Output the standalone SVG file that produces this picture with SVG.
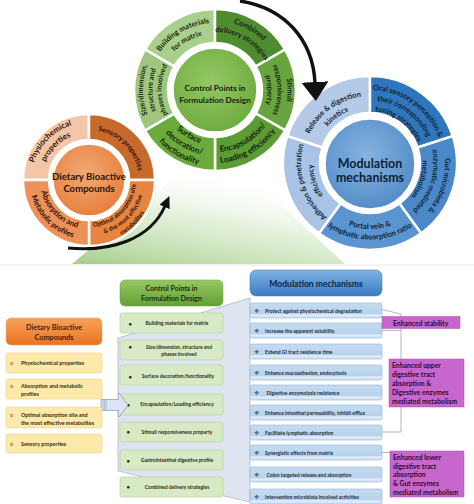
<svg xmlns="http://www.w3.org/2000/svg" width="474" height="504" viewBox="0 0 474 504">
<style>
text{font-family:Lato,"Liberation Sans",Arial,sans-serif;font-weight:700}
.seg{stroke:#fff;stroke-width:2.5}
.ot{fill:#2a1208}
.gt{fill:#15240c}
.bt{fill:#0d1f36}
.yi{fill:#fde9aa;stroke:#f0d48a;stroke-width:0.6}
.yt{font-size:5.4px;fill:#3a2a10}
.yb{font-size:5.5px;fill:#6a5020;font-weight:400}
.gi{fill:#d8e9c6;stroke:#b3d197;stroke-width:0.6}
.git{font-size:5px;fill:#1f2d12;text-anchor:middle}
.gb{font-size:6px;fill:#1f2d12}
.bi{fill:url(#biG);stroke:#92b6dc;stroke-width:0.6}
.bit{font-size:5px;fill:#1b2a3c}
.bb{font-size:6px;fill:#3b5c80;font-family:"DejaVu Sans",sans-serif;font-weight:400}
.pb{fill:#c766cc;stroke:#a94fb0;stroke-width:0.5}
.pt{font-size:6.8px;fill:#2c0a33}
.br{fill:none;stroke:#a6a6a6;stroke-width:0.8}
.hd{text-anchor:middle}
</style>
<defs>
<radialGradient id="oDisk" cx="0.45" cy="0.4" r="0.7"><stop offset="0" stop-color="#f3a874"/><stop offset="1" stop-color="#e47a36"/></radialGradient>
<radialGradient id="gDisk" cx="0.45" cy="0.4" r="0.7"><stop offset="0" stop-color="#94c865"/><stop offset="1" stop-color="#69a83a"/></radialGradient>
<radialGradient id="bDisk" cx="0.45" cy="0.4" r="0.7"><stop offset="0" stop-color="#86b3e0"/><stop offset="1" stop-color="#4d87c6"/></radialGradient>
<linearGradient id="wedge" x1="0" y1="1" x2="0.5" y2="0"><stop offset="0" stop-color="#9fcc82" stop-opacity="0.95"/><stop offset="0.55" stop-color="#cfe6bf" stop-opacity="0.6"/><stop offset="1" stop-color="#ffffff" stop-opacity="0"/></linearGradient>
<linearGradient id="orH" x1="0" y1="0" x2="0" y2="1"><stop offset="0" stop-color="#f6a35a"/><stop offset="1" stop-color="#e97323"/></linearGradient>
<linearGradient id="grH" x1="0" y1="0" x2="0" y2="1"><stop offset="0" stop-color="#95c762"/><stop offset="1" stop-color="#64a134"/></linearGradient>
<linearGradient id="blH" x1="0" y1="0" x2="0" y2="1"><stop offset="0" stop-color="#7fb4e3"/><stop offset="1" stop-color="#3a7bc2"/></linearGradient>
<linearGradient id="biG" x1="0" y1="0" x2="0" y2="1"><stop offset="0" stop-color="#c5dbf0"/><stop offset="0.7" stop-color="#b9d3ec"/><stop offset="0.8" stop-color="#e4eef9"/><stop offset="1" stop-color="#c8ddf1"/></linearGradient>
<marker id="ahS" viewBox="0 0 12 11" refX="1" refY="5.5" markerWidth="12" markerHeight="11" markerUnits="userSpaceOnUse" orient="auto"><path d="M0,0 L12,5.5 L0,11 Z" fill="#111"/></marker>
<marker id="ahL" viewBox="0 0 19 27" refX="1" refY="13.5" markerWidth="19" markerHeight="27" markerUnits="userSpaceOnUse" orient="auto"><path d="M0,0 L19,13.5 L0,27 Z" fill="#111"/></marker>
<path id="o1" d="M33.46,194.88 A57.5 57.5 0 0 1 103.88,124.46"/>
<path id="o2" d="M43.60,192.16 A47 47 0 0 1 101.16,134.60"/>
<path id="o3" d="M76.06,131.70 A50 50 0 0 1 137.30,192.94"/>
<path id="o4" d="M76.84,225.40 A47 47 0 0 0 134.40,167.84"/>
<path id="o5" d="M74.64,233.61 A55.5 55.5 0 0 0 142.61,165.64"/>
<path id="o6" d="M72.44,241.82 A64 64 0 0 0 150.82,163.44"/>
<path id="o7" d="M41.67,167.32 A49 49 0 0 0 101.68,227.33"/>
<path id="o8" d="M31.53,164.60 A59.5 59.5 0 0 0 104.40,237.47"/>
<path id="g1" d="M148,90 A67 67 0 0 1 248.5,31.98"/>
<path id="g2" d="M159,90 A56 56 0 0 1 243,41.50"/>
<path id="g3" d="M180.5,30.24 A69 69 0 0 1 284,90"/>
<path id="g4" d="M186,39.77 A58 58 0 0 1 273,90"/>
<path id="g5" d="M251.25,27.21 A72.5 72.5 0 0 1 251.25,152.79"/>
<path id="g6" d="M246.25,35.87 A62.5 62.5 0 0 1 246.25,144.13"/>
<path id="g7" d="M241.25,44.53 A52.5 52.5 0 0 1 241.25,135.47"/>
<path id="g8" d="M184,143.69 A62 62 0 0 0 277,90"/>
<path id="g9" d="M178.5,153.22 A73 73 0 0 0 288,90"/>
<path id="g10" d="M160,90 A55 55 0 0 0 242.5,137.63"/>
<path id="g11" d="M149.5,90 A65.5 65.5 0 0 0 247.75,146.72"/>
<path id="g12" d="M139,90 A76 76 0 0 0 253,155.82"/>
<path id="g13" d="M179,152.35 A72 72 0 0 1 179,27.65"/>
<path id="g14" d="M183.75,144.13 A62.5 62.5 0 0 1 183.75,35.87"/>
<path id="g15" d="M188.25,136.33 A53.5 53.5 0 0 1 188.25,43.67"/>
<path id="b1" d="M303.37,170.00 A67 67 0 0 1 397.25,101.80"/>
<path id="b2" d="M314.31,168.85 A56 56 0 0 1 392.78,111.84"/>
<path id="b3" d="M340.31,96.31 A73 73 0 0 1 442.60,170.63"/>
<path id="b4" d="M344.58,105.91 A62.5 62.5 0 0 1 432.16,169.53"/>
<path id="b5" d="M348.85,115.50 A52 52 0 0 1 421.71,168.43"/>
<path id="b6" d="M425.73,112.82 A75 75 0 0 1 385.59,236.36"/>
<path id="b7" d="M417.19,120.51 A63.5 63.5 0 0 1 383.20,225.11"/>
<path id="b8" d="M409.01,127.87 A52.5 52.5 0 0 1 380.91,214.35"/>
<path id="b9" d="M312.84,196 A66 66 0 0 0 427.16,196"/>
<path id="b10" d="M303.75,201.25 A76.5 76.5 0 0 0 436.25,201.25"/>
<path id="b11" d="M355.65,230.49 A69 69 0 0 1 318.73,116.83"/>
<path id="b12" d="M358.15,218.75 A57 57 0 0 1 327.64,124.86"/>
</defs>

<rect width="474" height="504" fill="#fff"/>
<polygon id="wedge-bg" points="185,168 242,168 345,264 72,264" fill="url(#wedge)"/>
<line x1="0" y1="265" x2="474" y2="265" stroke="#dcdcdc" stroke-width="0.6"/>

<g id="dietary-circle">
<path class="seg" d="M23,180 A66 66 0 0 1 89,114 L89,140 A40 40 0 0 0 49,180 Z" fill="#f5c5a8"/>
<path class="seg" d="M89,114 A66 66 0 0 1 155,180 L129,180 A40 40 0 0 0 89,140 Z" fill="#c8692c"/>
<path class="seg" d="M155,180 A66 66 0 0 1 89,246 L89,220 A40 40 0 0 0 129,180 Z" fill="#e7843f"/>
<path class="seg" d="M89,246 A66 66 0 0 1 23,180 L49,180 A40 40 0 0 0 89,220 Z" fill="#ed9158"/>
<circle cx="89" cy="180" r="36" fill="url(#oDisk)" stroke="#fff" stroke-width="1.5"/>
<text class="ot hd" x="89" y="179.5" font-size="9.6">Dietary Bioactive</text>
<text class="ot hd" x="89" y="191.5" font-size="9.6">Compounds</text>
<text class="ot" font-size="8"><textPath href="#o1" startOffset="50%" text-anchor="middle">Physiochemical</textPath></text>
<text class="ot" font-size="8"><textPath href="#o2" startOffset="50%" text-anchor="middle">properties</textPath></text>
<text class="ot" font-size="7.2"><textPath href="#o3" startOffset="50%" text-anchor="middle">Sensory properties</textPath></text>
<text class="ot" font-size="6.2"><textPath href="#o4" startOffset="50%" text-anchor="middle">Optimal absorption site</textPath></text>
<text class="ot" font-size="6.2"><textPath href="#o5" startOffset="50%" text-anchor="middle">&amp; the most effective</textPath></text>
<text class="ot" font-size="6.2"><textPath href="#o6" startOffset="50%" text-anchor="middle">metabolites</textPath></text>
<text class="ot" font-size="7.8"><textPath href="#o7" startOffset="50%" text-anchor="middle">Absorption and</textPath></text>
<text class="ot" font-size="7.6"><textPath href="#o8" startOffset="50%" text-anchor="middle">Metabolic profiles</textPath></text>
</g>

<g id="control-circle">
<path class="seg" d="M144.85,49.5 A81 81 0 0 1 215,9 L215,43 A47 47 0 0 0 174.30,66.5 Z" fill="#a8cf8b"/>
<path class="seg" d="M215,9 A81 81 0 0 1 285.15,49.5 L255.70,66.5 A47 47 0 0 0 215,43 Z" fill="#4f8c2f"/>
<path class="seg" d="M285.15,49.5 A81 81 0 0 1 285.15,130.5 L255.70,113.5 A47 47 0 0 0 255.70,66.5 Z" fill="#69a53e"/>
<path class="seg" d="M285.15,130.5 A81 81 0 0 1 215,171 L215,137 A47 47 0 0 0 255.70,113.5 Z" fill="#5b9c35"/>
<path class="seg" d="M215,171 A81 81 0 0 1 144.85,130.5 L174.30,113.5 A47 47 0 0 0 215,137 Z" fill="#6bab3b"/>
<path class="seg" d="M144.85,130.5 A81 81 0 0 1 144.85,49.5 L174.30,66.5 A47 47 0 0 0 174.30,113.5 Z" fill="#9ec67e"/>
<circle cx="215" cy="90" r="42" fill="url(#gDisk)" stroke="#fff" stroke-width="1.5"/>
<text class="gt hd" x="215" y="91" font-size="8.2">Control Points in</text>
<text class="gt hd" x="215" y="102.5" font-size="8.2">Formulation Design</text>
<text class="gt" font-size="7.4"><textPath href="#g1" startOffset="50%" text-anchor="middle">Building materials</textPath></text>
<text class="gt" font-size="7.4"><textPath href="#g2" startOffset="50%" text-anchor="middle">for matrix</textPath></text>
<text class="gt" font-size="7.6"><textPath href="#g3" startOffset="50%" text-anchor="middle">Combined</textPath></text>
<text class="gt" font-size="7.4"><textPath href="#g4" startOffset="50%" text-anchor="middle">delivery strategies</textPath></text>
<text class="gt" font-size="7.4"><textPath href="#g5" startOffset="50%" text-anchor="middle">Stimuli</textPath></text>
<text class="gt" font-size="7.4"><textPath href="#g6" startOffset="50%" text-anchor="middle">responsiveness</textPath></text>
<text class="gt" font-size="7.4"><textPath href="#g7" startOffset="50%" text-anchor="middle">property</textPath></text>
<text class="gt" font-size="8.2"><textPath href="#g8" startOffset="50%" text-anchor="middle">Encapsulation/</textPath></text>
<text class="gt" font-size="8.2"><textPath href="#g9" startOffset="50%" text-anchor="middle">Loading efficiency</textPath></text>
<text class="gt" font-size="8.2"><textPath href="#g10" startOffset="50%" text-anchor="middle">Surface</textPath></text>
<text class="gt" font-size="8.2"><textPath href="#g11" startOffset="50%" text-anchor="middle">decoration/</textPath></text>
<text class="gt" font-size="8.2"><textPath href="#g12" startOffset="50%" text-anchor="middle">functionality</textPath></text>
<text class="gt" font-size="7.2"><textPath href="#g13" startOffset="50%" text-anchor="middle">Size/dimension,</textPath></text>
<text class="gt" font-size="7.2"><textPath href="#g14" startOffset="50%" text-anchor="middle">structure and</textPath></text>
<text class="gt" font-size="7.2"><textPath href="#g15" startOffset="50%" text-anchor="middle">phases involved</textPath></text>
</g>

<g id="modulation-circle">
<path class="seg" d="M287.26,136.12 A87 87 0 0 1 370,76 L370,113 A50 50 0 0 0 322.45,147.55 Z" fill="#b5cae7"/>
<path class="seg" d="M370,76 A87 87 0 0 1 452.74,136.12 L417.55,147.55 A50 50 0 0 0 370,113 Z" fill="#2f76bc"/>
<path class="seg" d="M452.74,136.12 A87 87 0 0 1 421.14,233.38 L399.39,203.45 A50 50 0 0 0 417.55,147.55 Z" fill="#4a88c7"/>
<path class="seg" d="M421.14,233.38 A87 87 0 0 1 318.86,233.38 L340.61,203.45 A50 50 0 0 0 399.39,203.45 Z" fill="#5a95d1"/>
<path class="seg" d="M318.86,233.38 A87 87 0 0 1 287.26,136.12 L322.45,147.55 A50 50 0 0 0 340.61,203.45 Z" fill="#a8c3e6"/>
<circle cx="370" cy="164" r="45" fill="url(#bDisk)" stroke="#fff" stroke-width="1.5"/>
<text class="bt hd" x="370" y="168" font-size="12.5">Modulation</text>
<text class="bt hd" x="370" y="182" font-size="12.5">mechanisms</text>
<text class="bt" font-size="7.6"><textPath href="#b1" startOffset="50%" text-anchor="middle">Release &amp; digestion</textPath></text>
<text class="bt" font-size="7.6"><textPath href="#b2" startOffset="50%" text-anchor="middle">kinetics</textPath></text>
<text class="bt" font-size="7.4"><textPath href="#b3" startOffset="50%" text-anchor="middle">Oral sensory perception &amp;</textPath></text>
<text class="bt" font-size="7.4"><textPath href="#b4" startOffset="50%" text-anchor="middle">their corresponding</textPath></text>
<text class="bt" font-size="7.4"><textPath href="#b5" startOffset="50%" text-anchor="middle">tuning strategies</textPath></text>
<text class="bt" font-size="7.4"><textPath href="#b6" startOffset="50%" text-anchor="middle">Gut microbiota &amp;</textPath></text>
<text class="bt" font-size="7.4"><textPath href="#b7" startOffset="50%" text-anchor="middle">enzymatic mediated</textPath></text>
<text class="bt" font-size="7.4"><textPath href="#b8" startOffset="50%" text-anchor="middle">metabolism</textPath></text>
<text class="bt" font-size="7.6"><textPath href="#b9" startOffset="50%" text-anchor="middle">Portal vein &amp;</textPath></text>
<text class="bt" font-size="7.6"><textPath href="#b10" startOffset="50%" text-anchor="middle">lymphatic absorption ratio</textPath></text>
<text class="bt" font-size="7.6"><textPath href="#b11" startOffset="50%" text-anchor="middle">Adhesion &amp; penetration</textPath></text>
<text class="bt" font-size="7.6"><textPath href="#b12" startOffset="50%" text-anchor="middle">efficiency</textPath></text>
</g>

<g id="connectors">
<path d="M68,248 C110,252 150,240 165,206" fill="none" stroke="#111" stroke-width="3" marker-end="url(#ahS)"/>
<path d="M240,1 C285,8 313,40 315,83" fill="none" stroke="#111" stroke-width="3.4" marker-end="url(#ahL)"/>
<polygon points="118,338 250,298 250,502 118,471" fill="#dfe4f1" stroke="#aeb6c8" stroke-width="0.8"/>
<path d="M101,399.5 H119 V393 L128,405 L119,417 V410.5 H101 Z" fill="#dbe5f3" stroke="#8796b0" stroke-width="0.7"/>
<path d="M103,399.5 V410.5 M104.6,399.5 V410.5 M106.2,399.5 V410.5" stroke="#8796b0" stroke-width="0.5"/>
<path class="br" d="M382,309.5 L401,314 V432 H382"/>
<path class="br" d="M382,330.5 H401"/>
<path class="br" d="M382,452.5 H390"/>
</g>

<g id="dbc-header">
<rect x="6" y="318" width="96" height="27" rx="5" fill="url(#orH)" stroke="#e0a070" stroke-width="0.5"/>
<text class="hd" x="54" y="330" font-size="7.3" fill="#3d2410">Dietary Bioactive</text>
<text class="hd" x="54" y="339.5" font-size="7.3" fill="#3d2410">Compounds</text>
</g>
<g id="dbc-1"><rect class="yi" x="6" y="353" width="96" height="20" rx="2"/><text class="yb" x="10" y="365">o</text><text class="yt" x="21" y="365">Physiochemical properties</text></g>
<g id="dbc-2"><rect class="yi" x="6" y="379" width="96" height="20" rx="2"/><text class="yb" x="10" y="388">o</text><text class="yt" x="21" y="388">Absorption and metabolic</text><text class="yt" x="21" y="396">profiles</text></g>
<g id="dbc-3"><rect class="yi" x="6" y="407" width="96" height="21" rx="2"/><text class="yb" x="10" y="417">o</text><text class="yt" x="21" y="417">Optimal absorption site and</text><text class="yt" x="21" y="424.5">the most effective metabolites</text></g>
<g id="dbc-4"><rect class="yi" x="6" y="434" width="96" height="19" rx="2"/><text class="yb" x="10" y="446">o</text><text class="yt" x="21" y="446">Sensory properties</text></g>

<g id="cp-header">
<rect x="120" y="280" width="103" height="26" rx="5" fill="url(#grH)" stroke="#6a9f44" stroke-width="0.5"/>
<text class="hd" x="171.5" y="291" font-size="7" fill="#1e2a12">Control Points in</text>
<text class="hd" x="171.5" y="301" font-size="7" fill="#1e2a12">Formulation Design</text>
</g>
<g id="cp-1"><rect class="gi" x="120" y="313" width="103" height="20" rx="2"/><text class="gb" x="128.5" y="325.5">•</text><text class="git" x="177" y="325">Building materials for matrix</text></g>
<g id="cp-2"><rect class="gi" x="120" y="340" width="103" height="20" rx="2"/><text class="gb" x="128.5" y="349">•</text><text class="git" x="179" y="348.5">Size/dimension, structure and</text><text class="git" x="179" y="356">phases involved</text></g>
<g id="cp-3"><rect class="gi" x="120" y="365" width="103" height="20" rx="2"/><text class="gb" x="128.5" y="378.5">•</text><text class="git" x="178" y="378">Surface decoration/functionality</text></g>
<g id="cp-4"><rect class="gi" x="120" y="394" width="103" height="21" rx="2"/><text class="gb" x="126.5" y="406.5">•</text><text class="git" x="177" y="406">Encapsulation/Loading efficiency</text></g>
<g id="cp-5"><rect class="gi" x="120" y="422" width="103" height="20" rx="2"/><text class="gb" x="126.5" y="434">•</text><text class="git" x="177" y="433.5">Stimuli responsiveness property</text></g>
<g id="cp-6"><rect class="gi" x="120" y="450" width="103" height="20" rx="2"/><text class="gb" x="126.5" y="462.5">•</text><text class="git" x="177" y="462">Gastrointestinal digestive profile</text></g>
<g id="cp-7"><rect class="gi" x="120" y="477" width="103" height="20" rx="2"/><text class="gb" x="126.5" y="489">•</text><text class="git" x="177" y="488.5">Combined delivery strategies</text></g>
<path d="M119,393 L128,405 L119,417" fill="#dbe5f3" stroke="#8796b0" stroke-width="0.7"/>

<g id="mm-header">
<rect x="250" y="270" width="132" height="26" rx="6" fill="url(#blH)" stroke="#3a70a8" stroke-width="0.5"/>
<text class="hd" x="316" y="286.5" font-size="8.6" fill="#10233c">Modulation mechanisms</text>
</g>
<g id="mm-1"><rect class="bi" x="250" y="303" width="132" height="15" rx="2"/><text class="bb" x="254" y="312.5">❖</text><text class="bit" x="265" y="312.5">Protect against physiochemical degradation</text></g>
<g id="mm-2"><rect class="bi" x="250" y="323" width="132" height="15" rx="2"/><text class="bb" x="254" y="332.5">❖</text><text class="bit" x="265" y="332.5">Increase the apparent solubility</text></g>
<g id="mm-3"><rect class="bi" x="250" y="344" width="132" height="15" rx="2"/><text class="bb" x="254" y="353.5">❖</text><text class="bit" x="265" y="353.5">Extend GI tract residence time</text></g>
<g id="mm-4"><rect class="bi" x="250" y="365" width="132" height="15" rx="2"/><text class="bb" x="254" y="374.5">❖</text><text class="bit" x="265" y="374.5">Enhance mucoadhesion, endocytosis</text></g>
<g id="mm-5"><rect class="bi" x="250" y="385" width="132" height="15" rx="2"/><text class="bb" x="254" y="394.5">❖</text><text class="bit" x="266.5" y="394.5">Digestive enzymolysis resistence</text></g>
<g id="mm-6"><rect class="bi" x="250" y="405" width="132" height="15" rx="2"/><text class="bb" x="254" y="414.5">❖</text><text class="bit" x="265" y="414.5">Enhance intestinal permeability, inhibit efflux</text></g>
<g id="mm-7"><rect class="bi" x="250" y="425" width="132" height="15" rx="2"/><text class="bb" x="254" y="434.5">❖</text><text class="bit" x="265" y="434.5">Facilitate lymphatic absorption</text></g>
<g id="mm-8"><rect class="bi" x="250" y="445" width="132" height="15" rx="2"/><text class="bb" x="254" y="454.5">❖</text><text class="bit" x="265" y="454.5">Synergistic effects from matrix</text></g>
<g id="mm-9"><rect class="bi" x="250" y="467" width="132" height="15" rx="2"/><text class="bb" x="254" y="476.5">❖</text><text class="bit" x="266.5" y="476.5">Colon targeted release and absorption</text></g>
<g id="mm-10"><rect class="bi" x="250" y="489" width="132" height="15" rx="2"/><text class="bb" x="254" y="498.5">❖</text><text class="bit" x="265" y="498.5">Intervention microbiota involved activities</text></g>

<g id="out-stability"><rect class="pb" x="382" y="316.5" width="78" height="12"/><text class="pt" x="393" y="325.5">Enhanced stability</text></g>
<g id="out-upper"><rect class="pb" x="389" y="359" width="75" height="48"/>
<text class="pt" x="392" y="367.5">Enhanced upper</text><text class="pt" x="392" y="376.5">digestive tract</text><text class="pt" x="392" y="385.5">absorption &amp;</text><text class="pt" x="392" y="394.5">Digestive enzymes</text><text class="pt" x="392" y="403.5">mediated metabolism</text></g>
<g id="out-lower"><rect class="pb" x="390" y="451" width="74" height="46"/>
<text class="pt" x="393" y="459.5">Enhanced lower</text><text class="pt" x="393" y="468.5">digestive tract</text><text class="pt" x="393" y="477">absorption</text><text class="pt" x="393" y="486">&amp; Gut enzymes</text><text class="pt" x="393" y="495">mediated metabolism</text></g>
</svg>
